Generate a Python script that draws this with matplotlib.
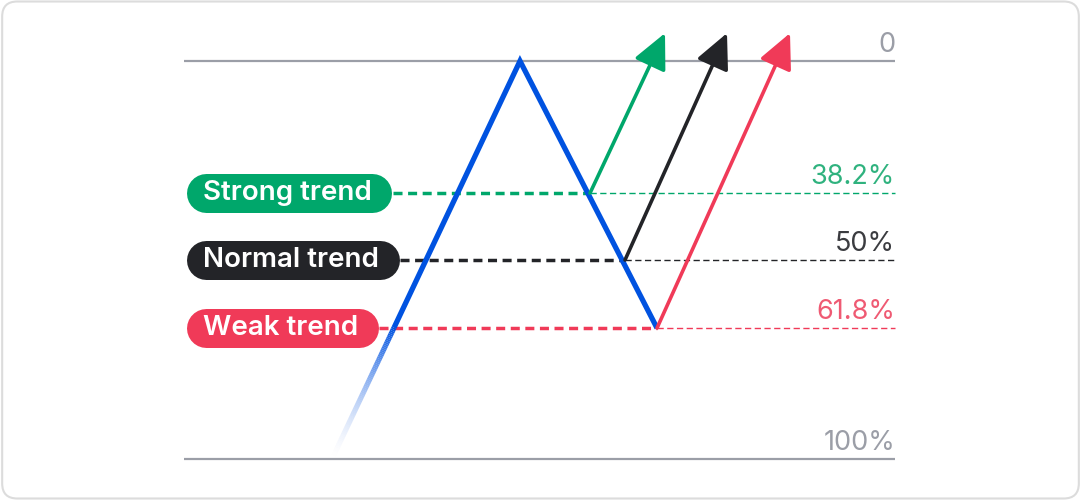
import numpy as np
import matplotlib.pyplot as plt
from matplotlib.patches import FancyBboxPatch
from matplotlib.collections import LineCollection

# schematic price path (price 0 = start of move, 100 = top)
path_t = [332, 520, 657]
path_p = [0, 100, 32.9]

levels = ['0', '38.2%', '50%', '61.8%', '100%']
level_p = [100, 66.8, 50, 32.9, 0]

trend_names = ['Strong trend', 'Normal trend', 'Weak trend']
trend_start_t = [590, 625, 657]
trend_start_p = [66.8, 50, 32.9]
trend_end_t = [665, 727, 790]
trend_end_p = [107.0, 107.0, 107.0]

trend_colors = ['#00a76b', '#232428', '#f03a58']
label_colors = ['#2fb27e', '#3b3c40', '#ef5a73']
grey = '#9b9ea7'
blue = '#0052e0'

plt.rcParams['font.family'] = ['Inter', 'DejaVu Sans']

fig = plt.figure(figsize=(10.81, 5.0), dpi=100)
ax = fig.add_axes([0, 0, 1, 1])
ax.set_xlim(0, 1081)
ax.set_ylim(-41 / 3.98, 100 + 61 / 3.98)
ax.axis('off')
px = 100 / 398  # price units per pixel

# card background
card = FancyBboxPatch((0.002, 0.003), 0.996, 0.994, boxstyle='round,pad=0,rounding_size=0.014',
                      transform=fig.transFigure, facecolor='white', edgecolor='#dcdcdc',
                      linewidth=1.5, mutation_aspect=1081 / 500, zorder=-5)
fig.patches.append(card)

# 0 and 100% lines
for lab, p in zip(levels, level_p):
    if lab in ('0', '100%'):
        ax.plot([184, 895], [p, p], color=grey, lw=1.6, zorder=1, solid_capstyle='butt')
        ax.text(895, p + 9 * px, lab, ha='right', va='baseline', color=grey, fontsize=19.5)

# retracement levels
fig.canvas.draw()
r = fig.canvas.get_renderer()
for i, name in enumerate(trend_names):
    p = trend_start_p[i]
    lab = levels[i + 1]
    col = trend_colors[i]
    t = ax.text(203, p - 7 * px, name, ha='left', va='baseline', color='white', fontsize=20,
                fontweight='semibold', zorder=6)
    bb = t.get_window_extent(r).transformed(ax.transData.inverted())
    x1 = bb.x1 + 20
    h = 39
    # pill = thick line with round caps
    ax.plot([186 + h / 2, x1 - h / 2], [p, p], color=col, lw=h * 0.72,
            solid_capstyle='round', zorder=5)
    ax.plot([x1 + 1, trend_start_t[i]], [p, p], color=col, lw=2.5, ls=(0, (2.6, 1.6)),
            zorder=2, solid_capstyle='butt')
    ax.plot([trend_start_t[i], 895], [p, p], color=col, lw=1.0, ls=(0, (4.5, 2.5)), zorder=2)
    ax.text(895, p + 9 * px, lab, ha='right', va='baseline', color=label_colors[i],
            fontsize=19.5)

# main zigzag with faded start
fade_p = 33
k = (fade_p - path_p[0]) / (path_p[1] - path_p[0])
fade_t = path_t[0] + k * (path_t[1] - path_t[0])
n = 80
ts = np.linspace(path_t[0], fade_t, n + 1)
ps = np.linspace(path_p[0], fade_p, n + 1)
segs = [[(ts[j], ps[j]), (ts[j + 1], ps[j + 1])] for j in range(n)]
alphas = np.linspace(0.0, 1.0, n) ** 1.6
cols = [(0.0, 0.32, 0.88, a) for a in alphas]
ax.add_collection(LineCollection(segs, colors=cols, linewidths=3.8, zorder=3, capstyle='butt'))
ax.plot([fade_t] + path_t[1:], [fade_p] + path_p[1:], color=blue, lw=3.8, zorder=3,
        solid_joinstyle='miter', solid_capstyle='butt')

# trend arrows
for i in range(3):
    ax.annotate('', xy=(trend_end_t[i], trend_end_p[i]),
                xytext=(trend_start_t[i], trend_start_p[i]),
                arrowprops=dict(arrowstyle='-|>,head_length=1.35,head_width=0.65',
                                color=trend_colors[i], lw=2.6, shrinkA=0, shrinkB=0,
                                mutation_scale=16), zorder=4)

fig.savefig('out.png', dpi=100)
